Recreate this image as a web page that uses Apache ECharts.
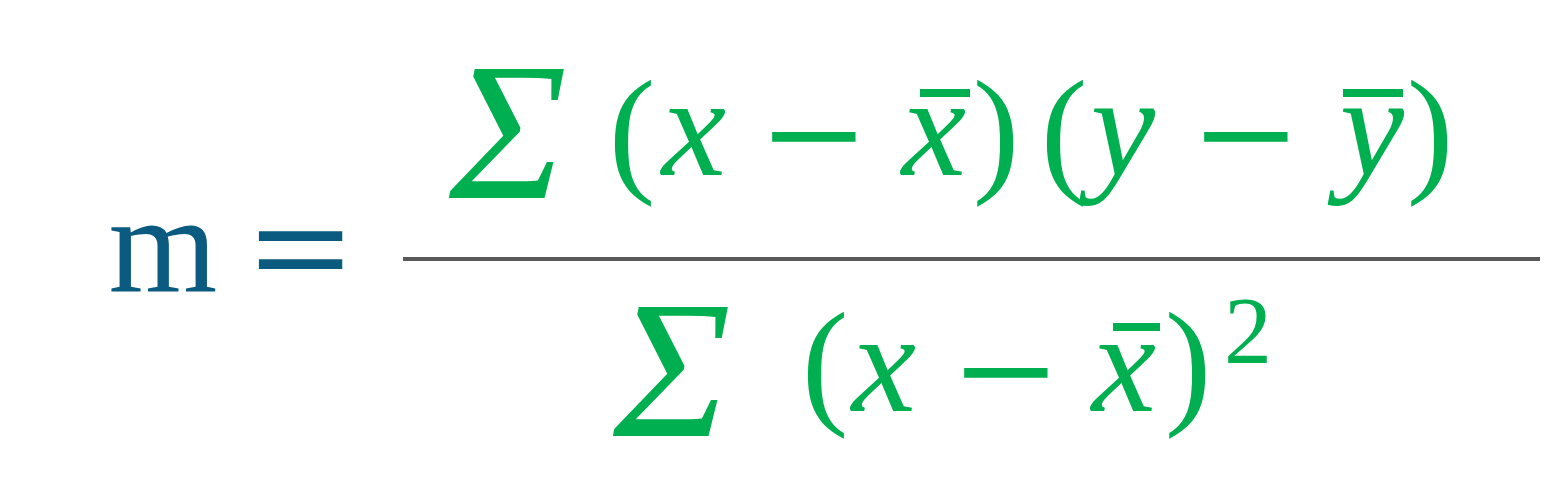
<!DOCTYPE html>
<html><head><meta charset="utf-8">
<script src="https://cdn.jsdelivr.net/npm/echarts@6/dist/echarts.min.js"></script>
<style>html,body{margin:0;padding:0;background:#fff}#c{width:1551px;height:485px}</style>
</head><body><div id="c"></div>
<script>
// Formula content (text tokens)
const lhsTokens = ['m', '='];
const numeratorTokens = ['Σ', '(', 'x', '−', 'x', ')', '(', 'y', '−', 'y', ')'];
const denominatorTokens = ['Σ', '(', 'x', '−', 'x', ')', '2'];

// Layout (positions, sizes)
const lhsX = [163, 301];
const numX = [508, 632, 694, 814, 934, 996, 1064, 1123, 1246, 1372, 1430];
const denX = [672, 825, 884, 1006, 1124, 1188, 1248];
const numBarX = [[920, 970], [1343, 1403]];
const denBarX = [[1113, 1160]];

const BLUE = '#0B5A80', GREEN = '#00B050', GRAY = '#595959';
const FONT = '"Liberation Serif", "DejaVu Serif", serif';
const MID = 0.255;

function styleFor(t) {
  if (t === 'Σ') return { size: 198, italic: true };
  if (t === 'x' || t === 'y') return { size: 145, italic: true, dy: -2 };
  if (t === '−') return { size: 140, bold: true, sx: 1.28, dy: 7 };
  if (t === '2') return { size: 96 };
  return { size: 140 };
}
function tok(text, cx, baseline, color, st) {
  const y = baseline - MID * st.size + (st.dy || 0);
  return {
    type: 'text', x: cx, y: y,
    scaleX: st.sx || 1,
    style: {
      text: text, fill: color, align: 'center', verticalAlign: 'middle',
      fontFamily: FONT, fontSize: st.size,
      fontStyle: st.italic ? 'italic' : 'normal',
      fontWeight: st.bold ? 'bold' : 'normal'
    }
  };
}
const g = [];
g.push(tok(lhsTokens[0], lhsX[0], 291, BLUE, { size: 140 }));
g.push(tok(lhsTokens[1], lhsX[1], 297, BLUE, { size: 140, bold: true, sx: 1.28 }));
g.push({ type: 'line', shape: { x1: 403, y1: 259, x2: 1540, y2: 259 }, style: { stroke: GRAY, lineWidth: 4 } });
numeratorTokens.forEach((t, i) => {
  const base = t === 'Σ' ? 196 : 176;
  g.push(tok(t, numX[i], base, GREEN, styleFor(t)));
});
denominatorTokens.forEach((t, i) => {
  let base = 412;
  if (t === 'Σ') base = 434;
  if (t === '(' || t === ')') base = 408;
  if (t === '2') base = 362;
  g.push(tok(t, denX[i], base, GREEN, styleFor(t)));
});
numBarX.forEach(b => g.push({ type: 'rect', shape: { x: b[0], y: 89, width: b[1] - b[0], height: 8 }, style: { fill: GREEN } }));
denBarX.forEach(b => g.push({ type: 'rect', shape: { x: b[0], y: 323, width: b[1] - b[0], height: 8 }, style: { fill: GREEN } }));

const chart = echarts.init(document.getElementById('c'));
chart.setOption({ backgroundColor: '#fff', animation: false, graphic: g });
</script></body></html>
